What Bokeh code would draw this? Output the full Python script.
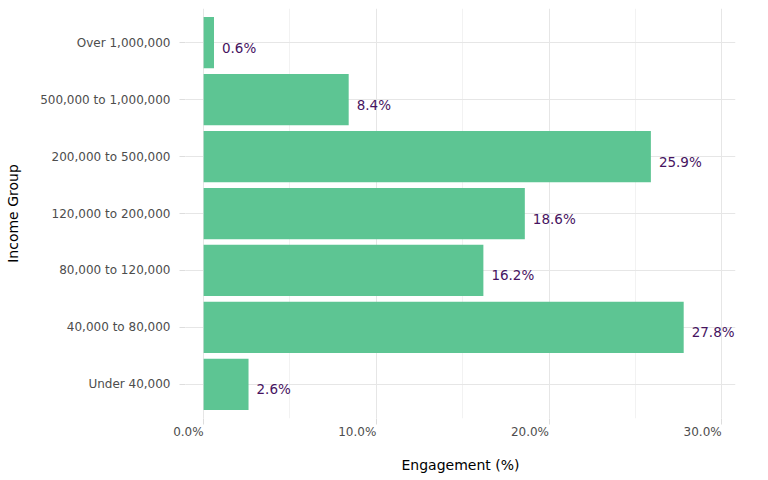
from bokeh.plotting import figure
from bokeh.models import ColumnDataSource, FixedTicker, CustomJSTickFormatter
from bokeh.embed import file_html
from bokeh.resources import INLINE
from bokeh.core.properties import value

groups = ["Under 40,000", "40,000 to 80,000", "80,000 to 120,000", "120,000 to 200,000",
          "200,000 to 500,000", "500,000 to 1,000,000", "Over 1,000,000"]
engagement = [2.6, 27.8, 16.2, 18.6, 25.9, 8.4, 0.6]
labels = [f"{v:.1f}%" for v in engagement]

src = ColumnDataSource(dict(g=groups, v=engagement, lab=labels))

FONT = "DejaVu Sans"
p = figure(width=768, height=480, y_range=groups, x_range=(-1.05, 30.8),
           output_backend="svg", toolbar_location=None,
           min_border_left=185, min_border_right=33, min_border_top=8, min_border_bottom=62)
p.y_range.range_padding = 0.1
p.y_range.range_padding_units = "absolute"
p.outline_line_color = None
p.background_fill_color = "white"

p.hbar(y="g", right="v", left=0, height=0.9, source=src, fill_color="#5DC593",
       line_color=None)
p.text(x="v", y="g", text="lab", source=src, x_offset=8, y_offset=5,
       text_font=value(FONT), text_font_size="13.5px", text_color="#46135F",
       text_align="left", text_baseline="middle")

p.xaxis.ticker = FixedTicker(ticks=[0, 10, 20, 30], minor_ticks=[5, 15, 25])
p.xaxis.formatter = CustomJSTickFormatter(code="return tick.toFixed(1) + '%'")
p.xaxis.major_label_orientation = 0.000001
p.xaxis.axis_label = "Engagement (%)"
p.yaxis.axis_label = "Income Group"

for ax in (p.xaxis, p.yaxis):
    ax.axis_line_color = None
    ax.major_tick_in = 0
    ax.major_tick_out = 6
    ax.major_tick_line_color = "#dddddd"
    ax.minor_tick_line_color = None
    ax.major_label_text_font = FONT
    ax.major_label_text_font_size = "12px"
    ax.major_label_text_color = "#4d4d4d"
    ax.axis_label_text_font = FONT
    ax.axis_label_text_font_size = "14px"
    ax.axis_label_text_font_style = "normal"
    ax.axis_label_text_color = "#000000"

p.xaxis.major_label_standoff = 7
p.xaxis.axis_label_standoff = 8
p.yaxis.major_label_standoff = 9
p.yaxis.axis_label_standoff = 16

p.xgrid.grid_line_color = "#e6e6e6"
p.xgrid.minor_grid_line_color = "#f2f2f2"
p.ygrid.grid_line_color = "#e6e6e6"
p.ygrid.level = "underlay"
p.xgrid.level = "underlay"

open("out.html", "w").write(file_html(p, INLINE))
